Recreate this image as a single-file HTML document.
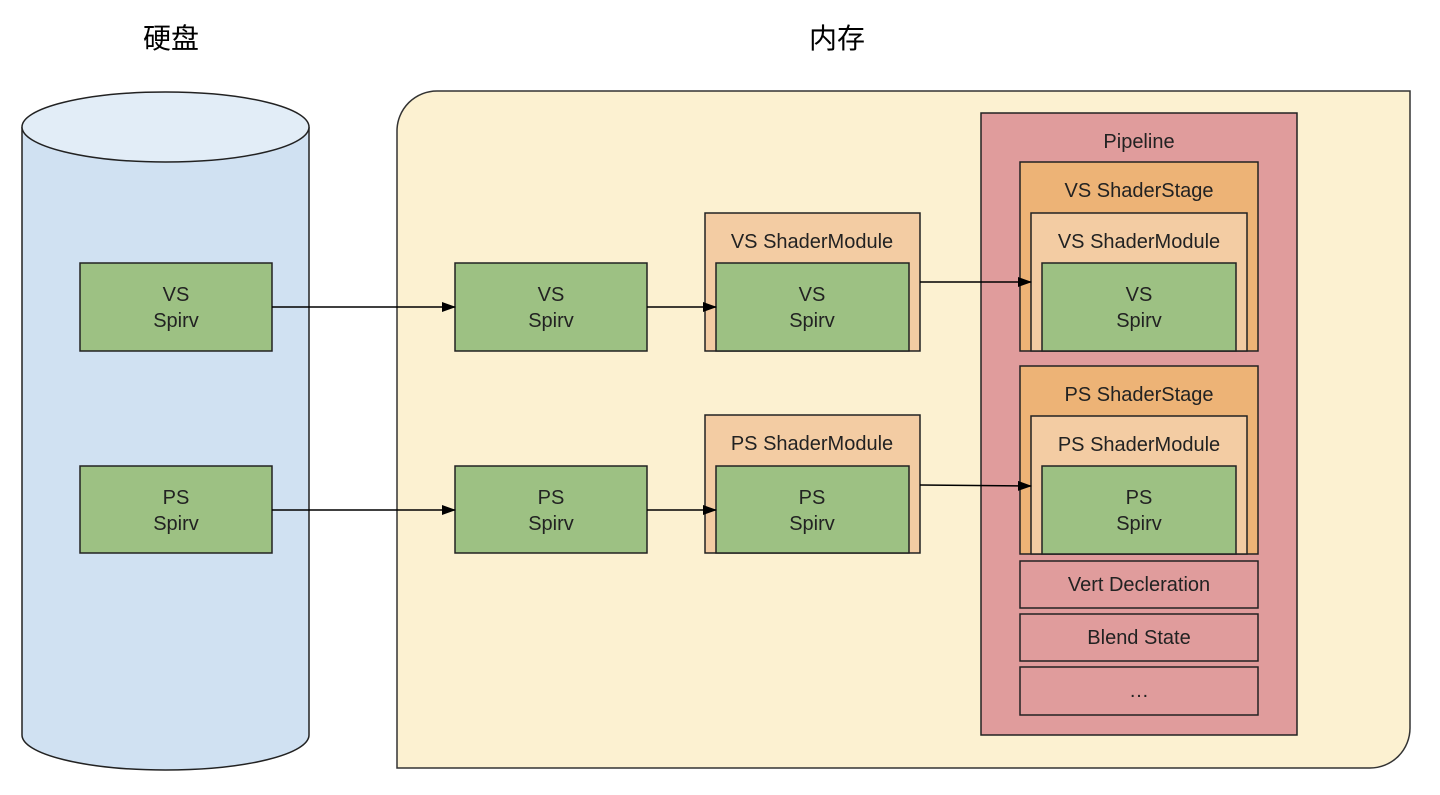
<!DOCTYPE html>
<html><head><meta charset="utf-8"><style>body{margin:0;background:#fff}</style></head><body>
<svg width="1440" height="790" xmlns="http://www.w3.org/2000/svg" font-family="Liberation Sans, Noto Sans CJK SC, sans-serif" font-size="20" fill="#222">
<defs><marker id="a" markerWidth="14" markerHeight="10" refX="13" refY="5" orient="auto" markerUnits="userSpaceOnUse"><path d="M0,0L14,5L0,10z" fill="#000"/></marker></defs>
<text x="171" y="48" font-size="28" text-anchor="middle" fill="#000">硬盘</text>
<text x="837" y="48" font-size="28" text-anchor="middle" fill="#000">内存</text>
<path d="M22,127 L22,735 A143.5,35 0 0 0 309,735 L309,127" fill="#d0e1f2" stroke="#222" stroke-width="1.5"/>
<ellipse cx="165.5" cy="127" rx="143.5" ry="35" fill="#e2edf7" stroke="#222" stroke-width="1.5"/>
<path d="M437,91 H1410 V728 A40,40 0 0 1 1370,768 H397 V131 A40,40 0 0 1 437,91z" fill="#fcf1d1" stroke="#333" stroke-width="1.5"/>
<g stroke="#222" stroke-width="1.5">
<rect x="981" y="113" width="316" height="622" fill="#e09c9c"/>
<rect x="1020" y="162" width="238" height="189" fill="#edb376"/>
<rect x="1031" y="213" width="216" height="138" fill="#f3cca3"/>
<rect x="1020" y="366" width="238" height="188" fill="#edb376"/>
<rect x="1031" y="416" width="216" height="138" fill="#f3cca3"/>
<rect x="1020" y="561" width="238" height="47" fill="#e09c9c"/>
<rect x="1020" y="614" width="238" height="47" fill="#e09c9c"/>
<rect x="1020" y="667" width="238" height="48" fill="#e09c9c"/>
<rect x="705" y="213" width="215" height="138" fill="#f3cca3"/>
<rect x="705" y="415" width="215" height="138" fill="#f3cca3"/>
<g fill="#9dc183">
<rect x="80" y="263" width="192" height="88"/><rect x="80" y="466" width="192" height="87"/>
<rect x="455" y="263" width="192" height="88"/><rect x="455" y="466" width="192" height="87"/>
<rect x="716" y="263" width="193" height="88"/><rect x="716" y="466" width="193" height="87"/>
<rect x="1042" y="263" width="194" height="88"/><rect x="1042" y="466" width="194" height="88"/>
</g>
</g>
<g stroke="#000" stroke-width="1.5" marker-end="url(#a)">
<line x1="272" y1="307" x2="455" y2="307"/><line x1="647" y1="307" x2="716" y2="307"/>
<line x1="920" y1="282" x2="1031" y2="282"/>
<line x1="272" y1="510" x2="455" y2="510"/><line x1="647" y1="510" x2="716" y2="510"/>
<line x1="920" y1="485" x2="1031" y2="486"/>
</g>
<g text-anchor="middle">
<text x="176" y="301">VS</text><text x="176" y="327">Spirv</text>
<text x="176" y="504">PS</text><text x="176" y="530">Spirv</text>
<text x="551" y="301">VS</text><text x="551" y="327">Spirv</text>
<text x="551" y="504">PS</text><text x="551" y="530">Spirv</text>
<text x="812" y="301">VS</text><text x="812" y="327">Spirv</text>
<text x="812" y="504">PS</text><text x="812" y="530">Spirv</text>
<text x="1139" y="301">VS</text><text x="1139" y="327">Spirv</text>
<text x="1139" y="504">PS</text><text x="1139" y="530">Spirv</text>
<text x="812" y="248">VS ShaderModule</text><text x="812" y="450">PS ShaderModule</text>
<text x="1139" y="148">Pipeline</text>
<text x="1139" y="197">VS ShaderStage</text><text x="1139" y="248">VS ShaderModule</text>
<text x="1139" y="401">PS ShaderStage</text><text x="1139" y="451">PS ShaderModule</text>
<text x="1139" y="591">Vert Decleration</text><text x="1139" y="644">Blend State</text><text x="1139" y="697">…</text>
</g>
</svg>
</body></html>
